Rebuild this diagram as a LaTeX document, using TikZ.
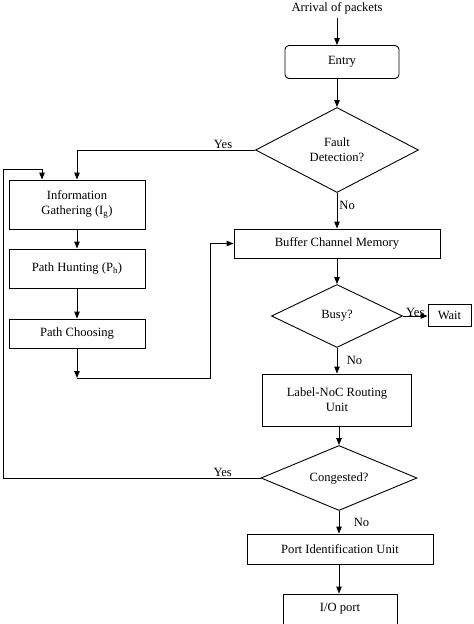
\documentclass[tikz,border=0pt]{standalone}
\usepackage{fontspec}
\setmainfont{Liberation Serif}
\usetikzlibrary{shapes.geometric,arrows.meta}

\begin{document}
\begin{tikzpicture}[x=1pt,y=-1pt,line width=0.9pt,
        font=\fontsize{12.6}{15}\selectfont,
        >={Triangle[length=7pt,width=5.5pt]},
        box/.style={draw,rectangle,inner sep=2pt,align=center},
        choice/.style={draw,diamond,shape aspect=2,inner sep=0pt,align=center}]
    \useasboundingbox (0,0) rectangle (474,624);

    % main column
    \node (arrival) at (337,8) {Arrival of packets};
    \node[box,rounded corners=4pt,minimum width=114,minimum height=33] (entry) at (342,62) {Entry};
    \node[choice,minimum width=163,minimum height=85] (fault) at (337,150) {Fault\\Detection?};
    \node[box,minimum width=206,minimum height=29] (buffer) at (337,243.5) {Buffer Channel Memory};
    \node[choice,minimum width=131,minimum height=63] (busy) at (337,316) {Busy?};
    \node[box,minimum width=43,minimum height=22] (wait) at (449.5,315) {Wait};
    \node[box,minimum width=149,minimum height=52] (label) at (337,400) {Label-NoC Routing\\Unit};
    \node[choice,minimum width=156,minimum height=65] (congested) at (339,478) {Congested?};
    \node[box,minimum width=186,minimum height=30] (portid) at (340,549) {Port Identification Unit};
    \node[box,minimum width=114,minimum height=30] (io) at (340,609) {I/O port};

    % left column
    \node[box,minimum width=136,minimum height=49] (info) at (77,204.5) {Information\\Gathering (I\textsubscript{g})};
    \node[box,minimum width=136,minimum height=39] (hunting) at (77,268.5) {Path Hunting (P\textsubscript{h})};
    \node[box,minimum width=136,minimum height=29] (choosing) at (77,333.5) {Path Choosing};
    \coordinate (turn) at (77,378);
    \coordinate (loop) at (3,169);

    \draw[->] (arrival.south) -- (arrival.south |- entry.north);
    \draw[->] (arrival.south |- entry.south) -- (fault.north);
    \draw[->] (fault.south) -- node[right,pos=0.36,inner sep=2pt] {No} (buffer.north);
    \draw[->] (fault.west) -| node[above,pos=0.09,inner sep=1pt] {Yes} (info.north);
    \draw[->] (buffer.south) -- (busy.north);
    \draw[->] (busy.east) -- node[midway,yshift=4pt,inner sep=0pt] {Yes} (wait.west |- busy.east);
    \draw[->] (busy.south) -- node[right,midway,xshift=6pt] {No} (label.north);
    \draw[->] (label.south -| congested.north) -- (congested.north);
    \draw[->] (congested.south) -- node[right,midway,xshift=11pt] {No} (congested.south |- portid.north);
    \draw[->] (congested.south |- portid.south) -- (congested.south |- io.north);
    \draw[->] (congested.west) -- node[above,pos=0.147,inner sep=1pt] {Yes} (loop |- congested.west)
        -- (loop) -| ([xshift=-35pt]info.north);

    \draw[->] (info.south) -- (hunting.north);
    \draw[->] (hunting.south) -- (choosing.north);
    \draw[->] (choosing.south) -- (turn);
    \draw[->] (turn) -- ++(133,0) |- (buffer.west);
\end{tikzpicture}
\end{document}
